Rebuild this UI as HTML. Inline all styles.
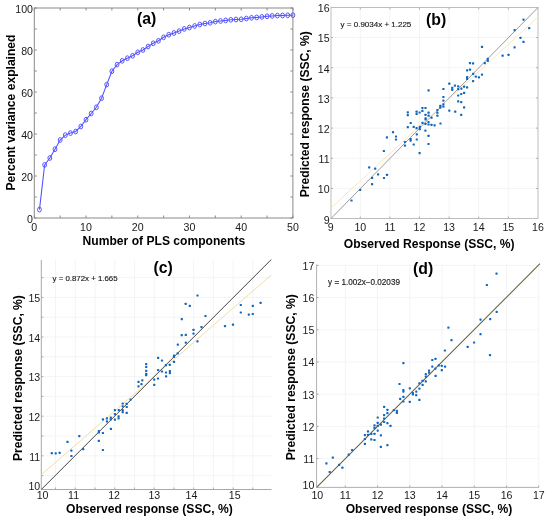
<!DOCTYPE html><html><head><meta charset="utf-8"><style>html,body{margin:0;padding:0;background:#fff;overflow:hidden;}svg{display:block;}text{font-family:"Liberation Sans", Arial, Helvetica, sans-serif;fill:#1a1a1a;}.tk{font-size:10.6px;}.lbl{font-size:12.1px;font-weight:bold;fill:#000;}.ttl{font-size:15.8px;font-weight:bold;fill:#000;}.eq{font-size:8px;fill:#1a1a1a;stroke:#1a1a1a;stroke-width:0.15px;}</style></head><body>
<svg width="550" height="520" viewBox="0 0 550 520">
<rect width="550" height="520" fill="#fff"/>
<rect x="34.3" y="8" width="258.6" height="210" fill="none" stroke="#8a8a8a" stroke-width="1"/>
<line x1="34.3" y1="218" x2="34.3" y2="215.5" stroke="#8a8a8a"/>
<line x1="34.3" y1="8" x2="34.3" y2="10.5" stroke="#8a8a8a"/>
<line x1="60.16" y1="218" x2="60.16" y2="215.5" stroke="#8a8a8a"/>
<line x1="60.16" y1="8" x2="60.16" y2="10.5" stroke="#8a8a8a"/>
<line x1="86.02" y1="218" x2="86.02" y2="215.5" stroke="#8a8a8a"/>
<line x1="86.02" y1="8" x2="86.02" y2="10.5" stroke="#8a8a8a"/>
<line x1="111.88" y1="218" x2="111.88" y2="215.5" stroke="#8a8a8a"/>
<line x1="111.88" y1="8" x2="111.88" y2="10.5" stroke="#8a8a8a"/>
<line x1="137.74" y1="218" x2="137.74" y2="215.5" stroke="#8a8a8a"/>
<line x1="137.74" y1="8" x2="137.74" y2="10.5" stroke="#8a8a8a"/>
<line x1="163.6" y1="218" x2="163.6" y2="215.5" stroke="#8a8a8a"/>
<line x1="163.6" y1="8" x2="163.6" y2="10.5" stroke="#8a8a8a"/>
<line x1="189.46" y1="218" x2="189.46" y2="215.5" stroke="#8a8a8a"/>
<line x1="189.46" y1="8" x2="189.46" y2="10.5" stroke="#8a8a8a"/>
<line x1="215.32" y1="218" x2="215.32" y2="215.5" stroke="#8a8a8a"/>
<line x1="215.32" y1="8" x2="215.32" y2="10.5" stroke="#8a8a8a"/>
<line x1="241.18" y1="218" x2="241.18" y2="215.5" stroke="#8a8a8a"/>
<line x1="241.18" y1="8" x2="241.18" y2="10.5" stroke="#8a8a8a"/>
<line x1="267.04" y1="218" x2="267.04" y2="215.5" stroke="#8a8a8a"/>
<line x1="267.04" y1="8" x2="267.04" y2="10.5" stroke="#8a8a8a"/>
<line x1="292.9" y1="218" x2="292.9" y2="215.5" stroke="#8a8a8a"/>
<line x1="292.9" y1="8" x2="292.9" y2="10.5" stroke="#8a8a8a"/>
<line x1="34.3" y1="218" x2="36.8" y2="218" stroke="#8a8a8a"/>
<line x1="292.9" y1="218" x2="290.4" y2="218" stroke="#8a8a8a"/>
<line x1="34.3" y1="197" x2="36.8" y2="197" stroke="#8a8a8a"/>
<line x1="292.9" y1="197" x2="290.4" y2="197" stroke="#8a8a8a"/>
<line x1="34.3" y1="176" x2="36.8" y2="176" stroke="#8a8a8a"/>
<line x1="292.9" y1="176" x2="290.4" y2="176" stroke="#8a8a8a"/>
<line x1="34.3" y1="155" x2="36.8" y2="155" stroke="#8a8a8a"/>
<line x1="292.9" y1="155" x2="290.4" y2="155" stroke="#8a8a8a"/>
<line x1="34.3" y1="134" x2="36.8" y2="134" stroke="#8a8a8a"/>
<line x1="292.9" y1="134" x2="290.4" y2="134" stroke="#8a8a8a"/>
<line x1="34.3" y1="113" x2="36.8" y2="113" stroke="#8a8a8a"/>
<line x1="292.9" y1="113" x2="290.4" y2="113" stroke="#8a8a8a"/>
<line x1="34.3" y1="92" x2="36.8" y2="92" stroke="#8a8a8a"/>
<line x1="292.9" y1="92" x2="290.4" y2="92" stroke="#8a8a8a"/>
<line x1="34.3" y1="71" x2="36.8" y2="71" stroke="#8a8a8a"/>
<line x1="292.9" y1="71" x2="290.4" y2="71" stroke="#8a8a8a"/>
<line x1="34.3" y1="50" x2="36.8" y2="50" stroke="#8a8a8a"/>
<line x1="292.9" y1="50" x2="290.4" y2="50" stroke="#8a8a8a"/>
<line x1="34.3" y1="29" x2="36.8" y2="29" stroke="#8a8a8a"/>
<line x1="292.9" y1="29" x2="290.4" y2="29" stroke="#8a8a8a"/>
<line x1="34.3" y1="8" x2="36.8" y2="8" stroke="#8a8a8a"/>
<line x1="292.9" y1="8" x2="290.4" y2="8" stroke="#8a8a8a"/>
<text x="34.3" y="230.6" class="tk" text-anchor="middle">0</text>
<text x="86.02" y="230.6" class="tk" text-anchor="middle">10</text>
<text x="137.74" y="230.6" class="tk" text-anchor="middle">20</text>
<text x="189.46" y="230.6" class="tk" text-anchor="middle">30</text>
<text x="241.18" y="230.6" class="tk" text-anchor="middle">40</text>
<text x="292.9" y="230.6" class="tk" text-anchor="middle">50</text>
<text x="33" y="222.5" class="tk" text-anchor="end">0</text>
<text x="33" y="180.5" class="tk" text-anchor="end">20</text>
<text x="33" y="138.5" class="tk" text-anchor="end">40</text>
<text x="33" y="96.5" class="tk" text-anchor="end">60</text>
<text x="33" y="54.5" class="tk" text-anchor="end">80</text>
<text x="33" y="12.5" class="tk" text-anchor="end">100</text>
<polyline points="39.47,209.6 44.64,164.9 49.82,158 54.99,149.2 60.16,140 65.33,135.1 70.5,133.1 75.68,131.5 80.85,126.5 86.02,119.7 91.19,113.5 96.36,107.3 101.54,98.2 106.71,84.6 111.88,71.2 117.05,64.6 122.22,60.8 127.4,58.2 132.57,55.8 137.74,52.3 142.91,50 148.08,46.5 153.26,43.3 158.43,40.8 163.6,37.3 168.77,34.7 173.94,33 179.12,31.1 184.29,28.9 189.46,27.5 194.63,26 199.8,24.5 204.98,23.5 210.15,22.8 215.32,21.6 220.49,21 225.66,20.4 230.84,19.8 236.01,19.5 241.18,19.3 246.35,18.5 251.52,17.8 256.7,17.4 261.87,16.9 267.04,16.3 272.21,15.9 277.38,15.6 282.56,15.5 287.73,15.3 292.9,15.2" fill="none" stroke="#5050ff" stroke-width="1.05"/>
<ellipse cx="39.47" cy="209.6" rx="1.9" ry="2.4" fill="none" stroke="#5555ff" stroke-width="1"/>
<ellipse cx="44.64" cy="164.9" rx="1.9" ry="2.4" fill="none" stroke="#5555ff" stroke-width="1"/>
<ellipse cx="49.82" cy="158" rx="1.9" ry="2.4" fill="none" stroke="#5555ff" stroke-width="1"/>
<ellipse cx="54.99" cy="149.2" rx="1.9" ry="2.4" fill="none" stroke="#5555ff" stroke-width="1"/>
<ellipse cx="60.16" cy="140" rx="1.9" ry="2.4" fill="none" stroke="#5555ff" stroke-width="1"/>
<ellipse cx="65.33" cy="135.1" rx="1.9" ry="2.4" fill="none" stroke="#5555ff" stroke-width="1"/>
<ellipse cx="70.5" cy="133.1" rx="1.9" ry="2.4" fill="none" stroke="#5555ff" stroke-width="1"/>
<ellipse cx="75.68" cy="131.5" rx="1.9" ry="2.4" fill="none" stroke="#5555ff" stroke-width="1"/>
<ellipse cx="80.85" cy="126.5" rx="1.9" ry="2.4" fill="none" stroke="#5555ff" stroke-width="1"/>
<ellipse cx="86.02" cy="119.7" rx="1.9" ry="2.4" fill="none" stroke="#5555ff" stroke-width="1"/>
<ellipse cx="91.19" cy="113.5" rx="1.9" ry="2.4" fill="none" stroke="#5555ff" stroke-width="1"/>
<ellipse cx="96.36" cy="107.3" rx="1.9" ry="2.4" fill="none" stroke="#5555ff" stroke-width="1"/>
<ellipse cx="101.54" cy="98.2" rx="1.9" ry="2.4" fill="none" stroke="#5555ff" stroke-width="1"/>
<ellipse cx="106.71" cy="84.6" rx="1.9" ry="2.4" fill="none" stroke="#5555ff" stroke-width="1"/>
<ellipse cx="111.88" cy="71.2" rx="1.9" ry="2.4" fill="none" stroke="#5555ff" stroke-width="1"/>
<ellipse cx="117.05" cy="64.6" rx="1.9" ry="2.4" fill="none" stroke="#5555ff" stroke-width="1"/>
<ellipse cx="122.22" cy="60.8" rx="1.9" ry="2.4" fill="none" stroke="#5555ff" stroke-width="1"/>
<ellipse cx="127.4" cy="58.2" rx="1.9" ry="2.4" fill="none" stroke="#5555ff" stroke-width="1"/>
<ellipse cx="132.57" cy="55.8" rx="1.9" ry="2.4" fill="none" stroke="#5555ff" stroke-width="1"/>
<ellipse cx="137.74" cy="52.3" rx="1.9" ry="2.4" fill="none" stroke="#5555ff" stroke-width="1"/>
<ellipse cx="142.91" cy="50" rx="1.9" ry="2.4" fill="none" stroke="#5555ff" stroke-width="1"/>
<ellipse cx="148.08" cy="46.5" rx="1.9" ry="2.4" fill="none" stroke="#5555ff" stroke-width="1"/>
<ellipse cx="153.26" cy="43.3" rx="1.9" ry="2.4" fill="none" stroke="#5555ff" stroke-width="1"/>
<ellipse cx="158.43" cy="40.8" rx="1.9" ry="2.4" fill="none" stroke="#5555ff" stroke-width="1"/>
<ellipse cx="163.6" cy="37.3" rx="1.9" ry="2.4" fill="none" stroke="#5555ff" stroke-width="1"/>
<ellipse cx="168.77" cy="34.7" rx="1.9" ry="2.4" fill="none" stroke="#5555ff" stroke-width="1"/>
<ellipse cx="173.94" cy="33" rx="1.9" ry="2.4" fill="none" stroke="#5555ff" stroke-width="1"/>
<ellipse cx="179.12" cy="31.1" rx="1.9" ry="2.4" fill="none" stroke="#5555ff" stroke-width="1"/>
<ellipse cx="184.29" cy="28.9" rx="1.9" ry="2.4" fill="none" stroke="#5555ff" stroke-width="1"/>
<ellipse cx="189.46" cy="27.5" rx="1.9" ry="2.4" fill="none" stroke="#5555ff" stroke-width="1"/>
<ellipse cx="194.63" cy="26" rx="1.9" ry="2.4" fill="none" stroke="#5555ff" stroke-width="1"/>
<ellipse cx="199.8" cy="24.5" rx="1.9" ry="2.4" fill="none" stroke="#5555ff" stroke-width="1"/>
<ellipse cx="204.98" cy="23.5" rx="1.9" ry="2.4" fill="none" stroke="#5555ff" stroke-width="1"/>
<ellipse cx="210.15" cy="22.8" rx="1.9" ry="2.4" fill="none" stroke="#5555ff" stroke-width="1"/>
<ellipse cx="215.32" cy="21.6" rx="1.9" ry="2.4" fill="none" stroke="#5555ff" stroke-width="1"/>
<ellipse cx="220.49" cy="21" rx="1.9" ry="2.4" fill="none" stroke="#5555ff" stroke-width="1"/>
<ellipse cx="225.66" cy="20.4" rx="1.9" ry="2.4" fill="none" stroke="#5555ff" stroke-width="1"/>
<ellipse cx="230.84" cy="19.8" rx="1.9" ry="2.4" fill="none" stroke="#5555ff" stroke-width="1"/>
<ellipse cx="236.01" cy="19.5" rx="1.9" ry="2.4" fill="none" stroke="#5555ff" stroke-width="1"/>
<ellipse cx="241.18" cy="19.3" rx="1.9" ry="2.4" fill="none" stroke="#5555ff" stroke-width="1"/>
<ellipse cx="246.35" cy="18.5" rx="1.9" ry="2.4" fill="none" stroke="#5555ff" stroke-width="1"/>
<ellipse cx="251.52" cy="17.8" rx="1.9" ry="2.4" fill="none" stroke="#5555ff" stroke-width="1"/>
<ellipse cx="256.7" cy="17.4" rx="1.9" ry="2.4" fill="none" stroke="#5555ff" stroke-width="1"/>
<ellipse cx="261.87" cy="16.9" rx="1.9" ry="2.4" fill="none" stroke="#5555ff" stroke-width="1"/>
<ellipse cx="267.04" cy="16.3" rx="1.9" ry="2.4" fill="none" stroke="#5555ff" stroke-width="1"/>
<ellipse cx="272.21" cy="15.9" rx="1.9" ry="2.4" fill="none" stroke="#5555ff" stroke-width="1"/>
<ellipse cx="277.38" cy="15.6" rx="1.9" ry="2.4" fill="none" stroke="#5555ff" stroke-width="1"/>
<ellipse cx="282.56" cy="15.5" rx="1.9" ry="2.4" fill="none" stroke="#5555ff" stroke-width="1"/>
<ellipse cx="287.73" cy="15.3" rx="1.9" ry="2.4" fill="none" stroke="#5555ff" stroke-width="1"/>
<ellipse cx="292.9" cy="15.2" rx="1.9" ry="2.4" fill="none" stroke="#5555ff" stroke-width="1"/>
<text x="146.6" y="24" class="ttl" text-anchor="middle">(a)</text>
<text x="163.9" y="245.2" class="lbl" text-anchor="middle">Number of PLS components</text>
<text transform="translate(15.4 112.5) rotate(-90)" class="lbl" text-anchor="middle">Percent variance explained</text>
<line x1="360.3" y1="7.5" x2="360.3" y2="218.5" stroke="#f4f4f4" stroke-width="1"/>
<line x1="331" y1="188.5" x2="538" y2="188.5" stroke="#f4f4f4" stroke-width="1"/>
<line x1="389.9" y1="7.5" x2="389.9" y2="218.5" stroke="#f4f4f4" stroke-width="1"/>
<line x1="331" y1="158.3" x2="538" y2="158.3" stroke="#f4f4f4" stroke-width="1"/>
<line x1="419.5" y1="7.5" x2="419.5" y2="218.5" stroke="#f4f4f4" stroke-width="1"/>
<line x1="331" y1="128.1" x2="538" y2="128.1" stroke="#f4f4f4" stroke-width="1"/>
<line x1="449.1" y1="7.5" x2="449.1" y2="218.5" stroke="#f4f4f4" stroke-width="1"/>
<line x1="331" y1="97.9" x2="538" y2="97.9" stroke="#f4f4f4" stroke-width="1"/>
<line x1="478.7" y1="7.5" x2="478.7" y2="218.5" stroke="#f4f4f4" stroke-width="1"/>
<line x1="331" y1="67.7" x2="538" y2="67.7" stroke="#f4f4f4" stroke-width="1"/>
<line x1="508.3" y1="7.5" x2="508.3" y2="218.5" stroke="#f4f4f4" stroke-width="1"/>
<line x1="331" y1="37.5" x2="538" y2="37.5" stroke="#f4f4f4" stroke-width="1"/>
<rect x="331" y="7.5" width="207" height="211" fill="none" stroke="#bdbdbd"/>
<line x1="360.3" y1="218.5" x2="360.3" y2="216.5" stroke="#b0b0b0" stroke-width="1"/>
<line x1="360.3" y1="7.5" x2="360.3" y2="9.5" stroke="#b0b0b0" stroke-width="1"/>
<line x1="331" y1="188.5" x2="333" y2="188.5" stroke="#b0b0b0" stroke-width="1"/>
<line x1="538" y1="188.5" x2="536" y2="188.5" stroke="#b0b0b0" stroke-width="1"/>
<line x1="389.9" y1="218.5" x2="389.9" y2="216.5" stroke="#b0b0b0" stroke-width="1"/>
<line x1="389.9" y1="7.5" x2="389.9" y2="9.5" stroke="#b0b0b0" stroke-width="1"/>
<line x1="331" y1="158.3" x2="333" y2="158.3" stroke="#b0b0b0" stroke-width="1"/>
<line x1="538" y1="158.3" x2="536" y2="158.3" stroke="#b0b0b0" stroke-width="1"/>
<line x1="419.5" y1="218.5" x2="419.5" y2="216.5" stroke="#b0b0b0" stroke-width="1"/>
<line x1="419.5" y1="7.5" x2="419.5" y2="9.5" stroke="#b0b0b0" stroke-width="1"/>
<line x1="331" y1="128.1" x2="333" y2="128.1" stroke="#b0b0b0" stroke-width="1"/>
<line x1="538" y1="128.1" x2="536" y2="128.1" stroke="#b0b0b0" stroke-width="1"/>
<line x1="449.1" y1="218.5" x2="449.1" y2="216.5" stroke="#b0b0b0" stroke-width="1"/>
<line x1="449.1" y1="7.5" x2="449.1" y2="9.5" stroke="#b0b0b0" stroke-width="1"/>
<line x1="331" y1="97.9" x2="333" y2="97.9" stroke="#b0b0b0" stroke-width="1"/>
<line x1="538" y1="97.9" x2="536" y2="97.9" stroke="#b0b0b0" stroke-width="1"/>
<line x1="478.7" y1="218.5" x2="478.7" y2="216.5" stroke="#b0b0b0" stroke-width="1"/>
<line x1="478.7" y1="7.5" x2="478.7" y2="9.5" stroke="#b0b0b0" stroke-width="1"/>
<line x1="331" y1="67.7" x2="333" y2="67.7" stroke="#b0b0b0" stroke-width="1"/>
<line x1="538" y1="67.7" x2="536" y2="67.7" stroke="#b0b0b0" stroke-width="1"/>
<line x1="508.3" y1="218.5" x2="508.3" y2="216.5" stroke="#b0b0b0" stroke-width="1"/>
<line x1="508.3" y1="7.5" x2="508.3" y2="9.5" stroke="#b0b0b0" stroke-width="1"/>
<line x1="331" y1="37.5" x2="333" y2="37.5" stroke="#b0b0b0" stroke-width="1"/>
<line x1="538" y1="37.5" x2="536" y2="37.5" stroke="#b0b0b0" stroke-width="1"/>
<text x="330.7" y="230.6" class="tk" text-anchor="middle">9</text>
<text x="329.6" y="223.5" class="tk" text-anchor="end">9</text>
<text x="360.3" y="230.6" class="tk" text-anchor="middle">10</text>
<text x="329.6" y="193.3" class="tk" text-anchor="end">10</text>
<text x="389.9" y="230.6" class="tk" text-anchor="middle">11</text>
<text x="329.6" y="163.1" class="tk" text-anchor="end">11</text>
<text x="419.5" y="230.6" class="tk" text-anchor="middle">12</text>
<text x="329.6" y="132.9" class="tk" text-anchor="end">12</text>
<text x="449.1" y="230.6" class="tk" text-anchor="middle">13</text>
<text x="329.6" y="102.7" class="tk" text-anchor="end">13</text>
<text x="478.7" y="230.6" class="tk" text-anchor="middle">14</text>
<text x="329.6" y="72.5" class="tk" text-anchor="end">14</text>
<text x="508.3" y="230.6" class="tk" text-anchor="middle">15</text>
<text x="329.6" y="42.3" class="tk" text-anchor="end">15</text>
<text x="537.9" y="230.6" class="tk" text-anchor="middle">16</text>
<text x="329.6" y="12.1" class="tk" text-anchor="end">16</text>
<line x1="331" y1="218.5" x2="538" y2="7.5" stroke="#9a9a9a" stroke-width="1"/>
<line x1="331" y1="207.96" x2="538" y2="16.98" stroke="#f6e9c6" stroke-width="1"/>
<text x="340.6" y="27.4" class="eq">y = 0.9034x + 1.225</text>
<text x="436.2" y="24.5" class="ttl" text-anchor="middle">(b)</text>
<text x="429.2" y="247.5" class="lbl" text-anchor="middle">Observed Response (SSC, %)</text>
<text transform="translate(309 114.2) rotate(-90)" class="lbl" text-anchor="middle">Predicted response (SSC, %)</text>
<line x1="55.57" y1="260" x2="55.57" y2="489.5" stroke="#f4f4f4" stroke-width="1"/>
<line x1="41.3" y1="475.6" x2="271.5" y2="475.6" stroke="#f4f4f4" stroke-width="1"/>
<line x1="75.3" y1="260" x2="75.3" y2="489.5" stroke="#f4f4f4" stroke-width="1"/>
<line x1="41.3" y1="455.8" x2="271.5" y2="455.8" stroke="#f4f4f4" stroke-width="1"/>
<line x1="95.03" y1="260" x2="95.03" y2="489.5" stroke="#f4f4f4" stroke-width="1"/>
<line x1="41.3" y1="436" x2="271.5" y2="436" stroke="#f4f4f4" stroke-width="1"/>
<line x1="114.75" y1="260" x2="114.75" y2="489.5" stroke="#f4f4f4" stroke-width="1"/>
<line x1="41.3" y1="416.2" x2="271.5" y2="416.2" stroke="#f4f4f4" stroke-width="1"/>
<line x1="134.47" y1="260" x2="134.47" y2="489.5" stroke="#f4f4f4" stroke-width="1"/>
<line x1="41.3" y1="396.4" x2="271.5" y2="396.4" stroke="#f4f4f4" stroke-width="1"/>
<line x1="154.2" y1="260" x2="154.2" y2="489.5" stroke="#f4f4f4" stroke-width="1"/>
<line x1="41.3" y1="376.6" x2="271.5" y2="376.6" stroke="#f4f4f4" stroke-width="1"/>
<line x1="173.93" y1="260" x2="173.93" y2="489.5" stroke="#f4f4f4" stroke-width="1"/>
<line x1="41.3" y1="356.8" x2="271.5" y2="356.8" stroke="#f4f4f4" stroke-width="1"/>
<line x1="193.65" y1="260" x2="193.65" y2="489.5" stroke="#f4f4f4" stroke-width="1"/>
<line x1="41.3" y1="337" x2="271.5" y2="337" stroke="#f4f4f4" stroke-width="1"/>
<line x1="213.38" y1="260" x2="213.38" y2="489.5" stroke="#f4f4f4" stroke-width="1"/>
<line x1="41.3" y1="317.2" x2="271.5" y2="317.2" stroke="#f4f4f4" stroke-width="1"/>
<line x1="233.1" y1="260" x2="233.1" y2="489.5" stroke="#f4f4f4" stroke-width="1"/>
<line x1="41.3" y1="297.4" x2="271.5" y2="297.4" stroke="#f4f4f4" stroke-width="1"/>
<line x1="252.82" y1="260" x2="252.82" y2="489.5" stroke="#f4f4f4" stroke-width="1"/>
<line x1="41.3" y1="277.6" x2="271.5" y2="277.6" stroke="#f4f4f4" stroke-width="1"/>
<line x1="41.3" y1="260" x2="41.3" y2="489.5" stroke="#a8a8a8" stroke-width="1"/>
<line x1="41.3" y1="489.5" x2="271.5" y2="489.5" stroke="#a8a8a8" stroke-width="1"/>
<line x1="55.57" y1="489.5" x2="55.57" y2="487.5" stroke="#aaa" stroke-width="1"/>
<line x1="41.3" y1="475.6" x2="43.3" y2="475.6" stroke="#aaa" stroke-width="1"/>
<line x1="75.3" y1="489.5" x2="75.3" y2="487.5" stroke="#aaa" stroke-width="1"/>
<line x1="41.3" y1="455.8" x2="43.3" y2="455.8" stroke="#aaa" stroke-width="1"/>
<line x1="95.03" y1="489.5" x2="95.03" y2="487.5" stroke="#aaa" stroke-width="1"/>
<line x1="41.3" y1="436" x2="43.3" y2="436" stroke="#aaa" stroke-width="1"/>
<line x1="114.75" y1="489.5" x2="114.75" y2="487.5" stroke="#aaa" stroke-width="1"/>
<line x1="41.3" y1="416.2" x2="43.3" y2="416.2" stroke="#aaa" stroke-width="1"/>
<line x1="134.47" y1="489.5" x2="134.47" y2="487.5" stroke="#aaa" stroke-width="1"/>
<line x1="41.3" y1="396.4" x2="43.3" y2="396.4" stroke="#aaa" stroke-width="1"/>
<line x1="154.2" y1="489.5" x2="154.2" y2="487.5" stroke="#aaa" stroke-width="1"/>
<line x1="41.3" y1="376.6" x2="43.3" y2="376.6" stroke="#aaa" stroke-width="1"/>
<line x1="173.93" y1="489.5" x2="173.93" y2="487.5" stroke="#aaa" stroke-width="1"/>
<line x1="41.3" y1="356.8" x2="43.3" y2="356.8" stroke="#aaa" stroke-width="1"/>
<line x1="193.65" y1="489.5" x2="193.65" y2="487.5" stroke="#aaa" stroke-width="1"/>
<line x1="41.3" y1="337" x2="43.3" y2="337" stroke="#aaa" stroke-width="1"/>
<line x1="213.38" y1="489.5" x2="213.38" y2="487.5" stroke="#aaa" stroke-width="1"/>
<line x1="41.3" y1="317.2" x2="43.3" y2="317.2" stroke="#aaa" stroke-width="1"/>
<line x1="233.1" y1="489.5" x2="233.1" y2="487.5" stroke="#aaa" stroke-width="1"/>
<line x1="41.3" y1="297.4" x2="43.3" y2="297.4" stroke="#aaa" stroke-width="1"/>
<line x1="252.82" y1="489.5" x2="252.82" y2="487.5" stroke="#aaa" stroke-width="1"/>
<line x1="41.3" y1="277.6" x2="43.3" y2="277.6" stroke="#aaa" stroke-width="1"/>
<text x="42.55" y="499" class="tk" text-anchor="middle">10</text>
<text x="73.6" y="499" class="tk" text-anchor="middle">11</text>
<text x="114.1" y="499" class="tk" text-anchor="middle">12</text>
<text x="154.35" y="499" class="tk" text-anchor="middle">13</text>
<text x="191.4" y="499" class="tk" text-anchor="middle">14</text>
<text x="234.65" y="499" class="tk" text-anchor="middle">15</text>
<text x="40.2" y="490.4" class="tk" text-anchor="end">10</text>
<text x="40.2" y="460.5" class="tk" text-anchor="end">11</text>
<text x="40.2" y="420.9" class="tk" text-anchor="end">12</text>
<text x="40.2" y="381.3" class="tk" text-anchor="end">13</text>
<text x="40.2" y="341.7" class="tk" text-anchor="end">14</text>
<text x="40.2" y="302.1" class="tk" text-anchor="end">15</text>
<line x1="41.3" y1="474.7" x2="271.5" y2="274.8" stroke="#f2dcaa" stroke-width="1"/>
<line x1="41.3" y1="489.5" x2="271.2" y2="259.6" stroke="#3a3a3a" stroke-width="0.95"/>
<text x="52.6" y="280.7" class="eq" style="font-size:7.85px">y = 0.872x + 1.665</text>
<rect x="146" y="259.5" width="36" height="17.5" fill="#fff"/>
<text x="163.2" y="272.6" class="ttl" text-anchor="middle">(c)</text>
<text x="149.35" y="513.2" class="lbl" text-anchor="middle">Observed response (SSC, %)</text>
<text transform="translate(22 378.1) rotate(-90)" class="lbl" text-anchor="middle">Predicted response (SSC, %)</text>
<line x1="345.3" y1="264.5" x2="345.3" y2="487.4" stroke="#f4f4f4" stroke-width="1"/>
<line x1="316.6" y1="458.6" x2="539" y2="458.6" stroke="#f4f4f4" stroke-width="1"/>
<line x1="377.55" y1="264.5" x2="377.55" y2="487.4" stroke="#f4f4f4" stroke-width="1"/>
<line x1="316.6" y1="426.4" x2="539" y2="426.4" stroke="#f4f4f4" stroke-width="1"/>
<line x1="409.8" y1="264.5" x2="409.8" y2="487.4" stroke="#f4f4f4" stroke-width="1"/>
<line x1="316.6" y1="394.2" x2="539" y2="394.2" stroke="#f4f4f4" stroke-width="1"/>
<line x1="442.05" y1="264.5" x2="442.05" y2="487.4" stroke="#f4f4f4" stroke-width="1"/>
<line x1="316.6" y1="362" x2="539" y2="362" stroke="#f4f4f4" stroke-width="1"/>
<line x1="474.3" y1="264.5" x2="474.3" y2="487.4" stroke="#f4f4f4" stroke-width="1"/>
<line x1="316.6" y1="329.8" x2="539" y2="329.8" stroke="#f4f4f4" stroke-width="1"/>
<line x1="506.55" y1="264.5" x2="506.55" y2="487.4" stroke="#f4f4f4" stroke-width="1"/>
<line x1="316.6" y1="297.6" x2="539" y2="297.6" stroke="#f4f4f4" stroke-width="1"/>
<line x1="538.8" y1="264.5" x2="538.8" y2="487.4" stroke="#f4f4f4" stroke-width="1"/>
<line x1="316.6" y1="265.4" x2="539" y2="265.4" stroke="#f4f4f4" stroke-width="1"/>
<line x1="316.6" y1="264.5" x2="316.6" y2="487.4" stroke="#b0b0b0" stroke-width="1"/>
<line x1="316.6" y1="487.4" x2="539" y2="487.4" stroke="#b0b0b0" stroke-width="1"/>
<line x1="345.3" y1="487.4" x2="345.3" y2="485.4" stroke="#aaa" stroke-width="1"/>
<line x1="316.6" y1="458.6" x2="318.6" y2="458.6" stroke="#aaa" stroke-width="1"/>
<line x1="377.55" y1="487.4" x2="377.55" y2="485.4" stroke="#aaa" stroke-width="1"/>
<line x1="316.6" y1="426.4" x2="318.6" y2="426.4" stroke="#aaa" stroke-width="1"/>
<line x1="409.8" y1="487.4" x2="409.8" y2="485.4" stroke="#aaa" stroke-width="1"/>
<line x1="316.6" y1="394.2" x2="318.6" y2="394.2" stroke="#aaa" stroke-width="1"/>
<line x1="442.05" y1="487.4" x2="442.05" y2="485.4" stroke="#aaa" stroke-width="1"/>
<line x1="316.6" y1="362" x2="318.6" y2="362" stroke="#aaa" stroke-width="1"/>
<line x1="474.3" y1="487.4" x2="474.3" y2="485.4" stroke="#aaa" stroke-width="1"/>
<line x1="316.6" y1="329.8" x2="318.6" y2="329.8" stroke="#aaa" stroke-width="1"/>
<line x1="506.55" y1="487.4" x2="506.55" y2="485.4" stroke="#aaa" stroke-width="1"/>
<line x1="316.6" y1="297.6" x2="318.6" y2="297.6" stroke="#aaa" stroke-width="1"/>
<line x1="538.8" y1="487.4" x2="538.8" y2="485.4" stroke="#aaa" stroke-width="1"/>
<line x1="316.6" y1="265.4" x2="318.6" y2="265.4" stroke="#aaa" stroke-width="1"/>
<text x="317.3" y="499.4" class="tk" text-anchor="middle">10</text>
<text x="345.3" y="499.4" class="tk" text-anchor="middle">11</text>
<text x="377.55" y="499.4" class="tk" text-anchor="middle">12</text>
<text x="409.8" y="499.4" class="tk" text-anchor="middle">13</text>
<text x="442.05" y="499.4" class="tk" text-anchor="middle">14</text>
<text x="474.3" y="499.4" class="tk" text-anchor="middle">15</text>
<text x="506.55" y="499.4" class="tk" text-anchor="middle">16</text>
<text x="538.8" y="499.4" class="tk" text-anchor="middle">17</text>
<text x="314.3" y="489.2" class="tk" text-anchor="end">10</text>
<text x="314.3" y="463" class="tk" text-anchor="end">11</text>
<text x="314.3" y="430.8" class="tk" text-anchor="end">12</text>
<text x="314.3" y="398.6" class="tk" text-anchor="end">13</text>
<text x="314.3" y="366.4" class="tk" text-anchor="end">14</text>
<text x="314.3" y="334.2" class="tk" text-anchor="end">15</text>
<text x="314.3" y="302" class="tk" text-anchor="end">16</text>
<text x="314.3" y="269.8" class="tk" text-anchor="end">17</text>
<line x1="316.6" y1="487.4" x2="540" y2="263.6" stroke="#6a6444" stroke-width="1.1"/>
<text x="328.1" y="285.4" class="eq" style="font-size:8.15px">y = 1.002x−0.02039</text>
<text x="423.2" y="274" class="ttl" text-anchor="middle">(d)</text>
<text x="429" y="513.2" class="lbl" text-anchor="middle">Observed response (SSC, %)</text>
<text transform="translate(294.5 377.3) rotate(-90)" class="lbl" text-anchor="middle">Predicted response (SSC, %)</text>
<g fill="#1266bd"><rect x="350.4" y="199.4" width="2.2" height="2.2" rx="0.6"/><rect x="359.1" y="188.9" width="2.2" height="2.2" rx="0.6"/><rect x="368.1" y="166.3" width="2.2" height="2.2" rx="0.6"/><rect x="374.1" y="167.6" width="2.2" height="2.2" rx="0.6"/><rect x="377" y="173.3" width="2.2" height="2.2" rx="0.6"/><rect x="371" y="176.8" width="2.2" height="2.2" rx="0.6"/><rect x="371" y="183.1" width="2.2" height="2.2" rx="0.6"/><rect x="382.9" y="176.9" width="2.2" height="2.2" rx="0.6"/><rect x="385.9" y="173.7" width="2.2" height="2.2" rx="0.6"/><rect x="382.8" y="149.9" width="2.2" height="2.2" rx="0.6"/><rect x="418.5" y="152" width="2.2" height="2.2" rx="0.6"/><rect x="385.8" y="136.3" width="2.2" height="2.2" rx="0.6"/><rect x="391.9" y="131.1" width="2.2" height="2.2" rx="0.6"/><rect x="409.6" y="121.9" width="2.2" height="2.2" rx="0.6"/><rect x="406.7" y="126.1" width="2.2" height="2.2" rx="0.6"/><rect x="412.6" y="125.8" width="2.2" height="2.2" rx="0.6"/><rect x="415.5" y="127.1" width="2.2" height="2.2" rx="0.6"/><rect x="418.7" y="125.8" width="2.2" height="2.2" rx="0.6"/><rect x="418.7" y="128" width="2.2" height="2.2" rx="0.6"/><rect x="421.4" y="121.8" width="2.2" height="2.2" rx="0.6"/><rect x="424.3" y="122.7" width="2.2" height="2.2" rx="0.6"/><rect x="424.5" y="117.2" width="2.2" height="2.2" rx="0.6"/><rect x="424.5" y="118.3" width="2.2" height="2.2" rx="0.6"/><rect x="424.3" y="129.5" width="2.2" height="2.2" rx="0.6"/><rect x="415.7" y="133.2" width="2.2" height="2.2" rx="0.6"/><rect x="394.9" y="135.4" width="2.2" height="2.2" rx="0.6"/><rect x="394.9" y="138.4" width="2.2" height="2.2" rx="0.6"/><rect x="409.5" y="138.1" width="2.2" height="2.2" rx="0.6"/><rect x="409.5" y="139.5" width="2.2" height="2.2" rx="0.6"/><rect x="415.7" y="138.4" width="2.2" height="2.2" rx="0.6"/><rect x="403.9" y="140.9" width="2.2" height="2.2" rx="0.6"/><rect x="403.9" y="144.5" width="2.2" height="2.2" rx="0.6"/><rect x="412.6" y="143.4" width="2.2" height="2.2" rx="0.6"/><rect x="427.4" y="121.1" width="2.2" height="2.2" rx="0.6"/><rect x="427.4" y="123.4" width="2.2" height="2.2" rx="0.6"/><rect x="430.4" y="123.7" width="2.2" height="2.2" rx="0.6"/><rect x="433.5" y="124.2" width="2.2" height="2.2" rx="0.6"/><rect x="439.4" y="122.4" width="2.2" height="2.2" rx="0.6"/><rect x="427.4" y="134.7" width="2.2" height="2.2" rx="0.6"/><rect x="427.4" y="142.9" width="2.2" height="2.2" rx="0.6"/><rect x="430.4" y="116.6" width="2.2" height="2.2" rx="0.6"/><rect x="406.7" y="111.2" width="2.2" height="2.2" rx="0.6"/><rect x="406.7" y="114.1" width="2.2" height="2.2" rx="0.6"/><rect x="415.5" y="110.6" width="2.2" height="2.2" rx="0.6"/><rect x="415.5" y="112.9" width="2.2" height="2.2" rx="0.6"/><rect x="418.5" y="111.4" width="2.2" height="2.2" rx="0.6"/><rect x="421.3" y="106.9" width="2.2" height="2.2" rx="0.6"/><rect x="421.3" y="109.8" width="2.2" height="2.2" rx="0.6"/><rect x="424.4" y="106.9" width="2.2" height="2.2" rx="0.6"/><rect x="424.4" y="113.7" width="2.2" height="2.2" rx="0.6"/><rect x="427.5" y="89.3" width="2.2" height="2.2" rx="0.6"/><rect x="442.3" y="87.9" width="2.2" height="2.2" rx="0.6"/><rect x="451.1" y="86.7" width="2.2" height="2.2" rx="0.6"/><rect x="451.1" y="88.7" width="2.2" height="2.2" rx="0.6"/><rect x="453.8" y="84.5" width="2.2" height="2.2" rx="0.6"/><rect x="442.3" y="95.9" width="2.2" height="2.2" rx="0.6"/><rect x="442.3" y="99.5" width="2.2" height="2.2" rx="0.6"/><rect x="442.3" y="103.2" width="2.2" height="2.2" rx="0.6"/><rect x="442.3" y="105.5" width="2.2" height="2.2" rx="0.6"/><rect x="439.2" y="104.7" width="2.2" height="2.2" rx="0.6"/><rect x="439.2" y="106.6" width="2.2" height="2.2" rx="0.6"/><rect x="436.3" y="109" width="2.2" height="2.2" rx="0.6"/><rect x="436.3" y="111.6" width="2.2" height="2.2" rx="0.6"/><rect x="436.3" y="114.6" width="2.2" height="2.2" rx="0.6"/><rect x="427.5" y="111.6" width="2.2" height="2.2" rx="0.6"/><rect x="427.5" y="114.6" width="2.2" height="2.2" rx="0.6"/><rect x="448.2" y="109.5" width="2.2" height="2.2" rx="0.6"/><rect x="454.1" y="110.6" width="2.2" height="2.2" rx="0.6"/><rect x="457.1" y="85.2" width="2.2" height="2.2" rx="0.6"/><rect x="457.1" y="88.1" width="2.2" height="2.2" rx="0.6"/><rect x="460.3" y="87.5" width="2.2" height="2.2" rx="0.6"/><rect x="463" y="85.6" width="2.2" height="2.2" rx="0.6"/><rect x="466" y="86.3" width="2.2" height="2.2" rx="0.6"/><rect x="457.1" y="94.4" width="2.2" height="2.2" rx="0.6"/><rect x="460.1" y="92.9" width="2.2" height="2.2" rx="0.6"/><rect x="463" y="91.8" width="2.2" height="2.2" rx="0.6"/><rect x="457.1" y="100.2" width="2.2" height="2.2" rx="0.6"/><rect x="460.1" y="101" width="2.2" height="2.2" rx="0.6"/><rect x="463" y="106.3" width="2.2" height="2.2" rx="0.6"/><rect x="460.1" y="113.8" width="2.2" height="2.2" rx="0.6"/><rect x="448.2" y="82.6" width="2.2" height="2.2" rx="0.6"/><rect x="468.9" y="62" width="2.2" height="2.2" rx="0.6"/><rect x="472" y="62.3" width="2.2" height="2.2" rx="0.6"/><rect x="466" y="69.2" width="2.2" height="2.2" rx="0.6"/><rect x="468.9" y="68.6" width="2.2" height="2.2" rx="0.6"/><rect x="472" y="72.7" width="2.2" height="2.2" rx="0.6"/><rect x="466" y="76" width="2.2" height="2.2" rx="0.6"/><rect x="466" y="77.8" width="2.2" height="2.2" rx="0.6"/><rect x="474.7" y="75.5" width="2.2" height="2.2" rx="0.6"/><rect x="477.8" y="76.2" width="2.2" height="2.2" rx="0.6"/><rect x="480.9" y="73.5" width="2.2" height="2.2" rx="0.6"/><rect x="472" y="80" width="2.2" height="2.2" rx="0.6"/><rect x="483.7" y="62" width="2.2" height="2.2" rx="0.6"/><rect x="486.7" y="57.7" width="2.2" height="2.2" rx="0.6"/><rect x="486.7" y="59.7" width="2.2" height="2.2" rx="0.6"/><rect x="501.5" y="54.6" width="2.2" height="2.2" rx="0.6"/><rect x="507.4" y="53.7" width="2.2" height="2.2" rx="0.6"/><rect x="480.9" y="45.8" width="2.2" height="2.2" rx="0.6"/><rect x="513.5" y="29.1" width="2.2" height="2.2" rx="0.6"/><rect x="519.4" y="36.7" width="2.2" height="2.2" rx="0.6"/><rect x="513.5" y="46.2" width="2.2" height="2.2" rx="0.6"/><rect x="522.4" y="18.5" width="2.2" height="2.2" rx="0.6"/><rect x="528.1" y="27.1" width="2.2" height="2.2" rx="0.6"/><rect x="522.4" y="40.8" width="2.2" height="2.2" rx="0.6"/><rect x="50.7" y="452.1" width="2.2" height="2.2" rx="0.6"/><rect x="54.6" y="452.2" width="2.2" height="2.2" rx="0.6"/><rect x="58.6" y="451.7" width="2.2" height="2.2" rx="0.6"/><rect x="66.4" y="440.8" width="2.2" height="2.2" rx="0.6"/><rect x="70.3" y="449.5" width="2.2" height="2.2" rx="0.6"/><rect x="70.3" y="454.9" width="2.2" height="2.2" rx="0.6"/><rect x="78.2" y="435" width="2.2" height="2.2" rx="0.6"/><rect x="82.1" y="448.1" width="2.2" height="2.2" rx="0.6"/><rect x="97.8" y="430.1" width="2.2" height="2.2" rx="0.6"/><rect x="97.8" y="431.3" width="2.2" height="2.2" rx="0.6"/><rect x="101.8" y="431.9" width="2.2" height="2.2" rx="0.6"/><rect x="109.8" y="427.8" width="2.2" height="2.2" rx="0.6"/><rect x="97.8" y="439.7" width="2.2" height="2.2" rx="0.6"/><rect x="101.8" y="448.9" width="2.2" height="2.2" rx="0.6"/><rect x="105.8" y="420.3" width="2.2" height="2.2" rx="0.6"/><rect x="101.8" y="418.3" width="2.2" height="2.2" rx="0.6"/><rect x="105.8" y="417.3" width="2.2" height="2.2" rx="0.6"/><rect x="109.7" y="416.5" width="2.2" height="2.2" rx="0.6"/><rect x="109.7" y="418.2" width="2.2" height="2.2" rx="0.6"/><rect x="113.8" y="409" width="2.2" height="2.2" rx="0.6"/><rect x="113.8" y="413.1" width="2.2" height="2.2" rx="0.6"/><rect x="113.8" y="418.6" width="2.2" height="2.2" rx="0.6"/><rect x="117.7" y="409.1" width="2.2" height="2.2" rx="0.6"/><rect x="117.5" y="415.2" width="2.2" height="2.2" rx="0.6"/><rect x="117.5" y="417.2" width="2.2" height="2.2" rx="0.6"/><rect x="121.6" y="402.4" width="2.2" height="2.2" rx="0.6"/><rect x="121.6" y="405.2" width="2.2" height="2.2" rx="0.6"/><rect x="121.6" y="409.1" width="2.2" height="2.2" rx="0.6"/><rect x="121.6" y="411.1" width="2.2" height="2.2" rx="0.6"/><rect x="125.6" y="402.7" width="2.2" height="2.2" rx="0.6"/><rect x="125.6" y="405.9" width="2.2" height="2.2" rx="0.6"/><rect x="125.6" y="411.8" width="2.2" height="2.2" rx="0.6"/><rect x="129.5" y="398.5" width="2.2" height="2.2" rx="0.6"/><rect x="141.2" y="379.2" width="2.2" height="2.2" rx="0.6"/><rect x="137.4" y="380.8" width="2.2" height="2.2" rx="0.6"/><rect x="140.4" y="383.1" width="2.2" height="2.2" rx="0.6"/><rect x="137.4" y="385.2" width="2.2" height="2.2" rx="0.6"/><rect x="153.1" y="378.5" width="2.2" height="2.2" rx="0.6"/><rect x="153.1" y="383.7" width="2.2" height="2.2" rx="0.6"/><rect x="156.9" y="377.4" width="2.2" height="2.2" rx="0.6"/><rect x="145.1" y="363.1" width="2.2" height="2.2" rx="0.6"/><rect x="145.1" y="365.9" width="2.2" height="2.2" rx="0.6"/><rect x="145.1" y="369.7" width="2.2" height="2.2" rx="0.6"/><rect x="145.1" y="372.7" width="2.2" height="2.2" rx="0.6"/><rect x="145.1" y="374.1" width="2.2" height="2.2" rx="0.6"/><rect x="157" y="356.8" width="2.2" height="2.2" rx="0.6"/><rect x="157" y="368.9" width="2.2" height="2.2" rx="0.6"/><rect x="160.9" y="359.4" width="2.2" height="2.2" rx="0.6"/><rect x="164.8" y="364.1" width="2.2" height="2.2" rx="0.6"/><rect x="168.7" y="363.7" width="2.2" height="2.2" rx="0.6"/><rect x="172.9" y="354.5" width="2.2" height="2.2" rx="0.6"/><rect x="172.9" y="355.9" width="2.2" height="2.2" rx="0.6"/><rect x="172.9" y="360.7" width="2.2" height="2.2" rx="0.6"/><rect x="176.6" y="352.2" width="2.2" height="2.2" rx="0.6"/><rect x="160.9" y="370.4" width="2.2" height="2.2" rx="0.6"/><rect x="164.9" y="371.4" width="2.2" height="2.2" rx="0.6"/><rect x="168.8" y="369.9" width="2.2" height="2.2" rx="0.6"/><rect x="168.8" y="372" width="2.2" height="2.2" rx="0.6"/><rect x="165" y="375.2" width="2.2" height="2.2" rx="0.6"/><rect x="180.6" y="334.1" width="2.2" height="2.2" rx="0.6"/><rect x="184.7" y="333.8" width="2.2" height="2.2" rx="0.6"/><rect x="192.4" y="332.5" width="2.2" height="2.2" rx="0.6"/><rect x="192.4" y="328.7" width="2.2" height="2.2" rx="0.6"/><rect x="184.7" y="341.5" width="2.2" height="2.2" rx="0.6"/><rect x="176.7" y="343.5" width="2.2" height="2.2" rx="0.6"/><rect x="196.4" y="340.2" width="2.2" height="2.2" rx="0.6"/><rect x="184.6" y="302.7" width="2.2" height="2.2" rx="0.6"/><rect x="188.7" y="304.8" width="2.2" height="2.2" rx="0.6"/><rect x="180.7" y="318.1" width="2.2" height="2.2" rx="0.6"/><rect x="204.4" y="314.9" width="2.2" height="2.2" rx="0.6"/><rect x="200.4" y="326" width="2.2" height="2.2" rx="0.6"/><rect x="196.4" y="294.4" width="2.2" height="2.2" rx="0.6"/><rect x="223.9" y="325" width="2.2" height="2.2" rx="0.6"/><rect x="231.9" y="323.6" width="2.2" height="2.2" rx="0.6"/><rect x="239.7" y="303.9" width="2.2" height="2.2" rx="0.6"/><rect x="251.7" y="304.8" width="2.2" height="2.2" rx="0.6"/><rect x="259.5" y="301.7" width="2.2" height="2.2" rx="0.6"/><rect x="239.7" y="311.4" width="2.2" height="2.2" rx="0.6"/><rect x="247.7" y="313.5" width="2.2" height="2.2" rx="0.6"/><rect x="251.7" y="312.9" width="2.2" height="2.2" rx="0.6"/><rect x="325.3" y="462.3" width="2.2" height="2.2" rx="0.6"/><rect x="331.7" y="456.5" width="2.2" height="2.2" rx="0.6"/><rect x="328.6" y="470.9" width="2.2" height="2.2" rx="0.6"/><rect x="338" y="463.8" width="2.2" height="2.2" rx="0.6"/><rect x="341.3" y="466.6" width="2.2" height="2.2" rx="0.6"/><rect x="347.6" y="453.6" width="2.2" height="2.2" rx="0.6"/><rect x="351" y="448.9" width="2.2" height="2.2" rx="0.6"/><rect x="363.8" y="434" width="2.2" height="2.2" rx="0.6"/><rect x="363.8" y="437.9" width="2.2" height="2.2" rx="0.6"/><rect x="363.8" y="442.8" width="2.2" height="2.2" rx="0.6"/><rect x="366.9" y="430.3" width="2.2" height="2.2" rx="0.6"/><rect x="366.9" y="433.7" width="2.2" height="2.2" rx="0.6"/><rect x="370.2" y="432.9" width="2.2" height="2.2" rx="0.6"/><rect x="370.2" y="438.3" width="2.2" height="2.2" rx="0.6"/><rect x="373.4" y="424.3" width="2.2" height="2.2" rx="0.6"/><rect x="373.4" y="426.8" width="2.2" height="2.2" rx="0.6"/><rect x="373.4" y="432.7" width="2.2" height="2.2" rx="0.6"/><rect x="373.4" y="438.9" width="2.2" height="2.2" rx="0.6"/><rect x="376.6" y="421.7" width="2.2" height="2.2" rx="0.6"/><rect x="376.6" y="424.7" width="2.2" height="2.2" rx="0.6"/><rect x="376.6" y="429.5" width="2.2" height="2.2" rx="0.6"/><rect x="379.8" y="423.5" width="2.2" height="2.2" rx="0.6"/><rect x="379.8" y="434.2" width="2.2" height="2.2" rx="0.6"/><rect x="379.8" y="445.7" width="2.2" height="2.2" rx="0.6"/><rect x="383" y="420.9" width="2.2" height="2.2" rx="0.6"/><rect x="386.3" y="422.1" width="2.2" height="2.2" rx="0.6"/><rect x="389.4" y="424.7" width="2.2" height="2.2" rx="0.6"/><rect x="386.3" y="444.1" width="2.2" height="2.2" rx="0.6"/><rect x="383" y="405.7" width="2.2" height="2.2" rx="0.6"/><rect x="386.3" y="408.7" width="2.2" height="2.2" rx="0.6"/><rect x="386.3" y="412.1" width="2.2" height="2.2" rx="0.6"/><rect x="383" y="414" width="2.2" height="2.2" rx="0.6"/><rect x="376.6" y="416.4" width="2.2" height="2.2" rx="0.6"/><rect x="383" y="417.4" width="2.2" height="2.2" rx="0.6"/><rect x="392.7" y="409.1" width="2.2" height="2.2" rx="0.6"/><rect x="395.8" y="409.7" width="2.2" height="2.2" rx="0.6"/><rect x="395.8" y="411.8" width="2.2" height="2.2" rx="0.6"/><rect x="399.1" y="397.8" width="2.2" height="2.2" rx="0.6"/><rect x="402.3" y="395.7" width="2.2" height="2.2" rx="0.6"/><rect x="402.3" y="400.4" width="2.2" height="2.2" rx="0.6"/><rect x="408.7" y="400.7" width="2.2" height="2.2" rx="0.6"/><rect x="411.8" y="392.1" width="2.2" height="2.2" rx="0.6"/><rect x="411.8" y="393.4" width="2.2" height="2.2" rx="0.6"/><rect x="415.1" y="394.1" width="2.2" height="2.2" rx="0.6"/><rect x="418.3" y="398.8" width="2.2" height="2.2" rx="0.6"/><rect x="415.2" y="390.5" width="2.2" height="2.2" rx="0.6"/><rect x="402.3" y="362" width="2.2" height="2.2" rx="0.6"/><rect x="398.4" y="382.9" width="2.2" height="2.2" rx="0.6"/><rect x="402.3" y="389.1" width="2.2" height="2.2" rx="0.6"/><rect x="408.7" y="387.2" width="2.2" height="2.2" rx="0.6"/><rect x="418.3" y="382.2" width="2.2" height="2.2" rx="0.6"/><rect x="418.3" y="387.5" width="2.2" height="2.2" rx="0.6"/><rect x="421.5" y="379.7" width="2.2" height="2.2" rx="0.6"/><rect x="421.5" y="383.8" width="2.2" height="2.2" rx="0.6"/><rect x="443.8" y="349.4" width="2.2" height="2.2" rx="0.6"/><rect x="431.2" y="358.9" width="2.2" height="2.2" rx="0.6"/><rect x="434.4" y="357.7" width="2.2" height="2.2" rx="0.6"/><rect x="431.2" y="365.5" width="2.2" height="2.2" rx="0.6"/><rect x="437.7" y="364.3" width="2.2" height="2.2" rx="0.6"/><rect x="440.7" y="364.7" width="2.2" height="2.2" rx="0.6"/><rect x="444" y="365.5" width="2.2" height="2.2" rx="0.6"/><rect x="440.7" y="369.1" width="2.2" height="2.2" rx="0.6"/><rect x="428" y="369.5" width="2.2" height="2.2" rx="0.6"/><rect x="427.9" y="371.5" width="2.2" height="2.2" rx="0.6"/><rect x="434.3" y="367.5" width="2.2" height="2.2" rx="0.6"/><rect x="424.7" y="373.1" width="2.2" height="2.2" rx="0.6"/><rect x="424.7" y="375.5" width="2.2" height="2.2" rx="0.6"/><rect x="424.7" y="380.3" width="2.2" height="2.2" rx="0.6"/><rect x="434.5" y="374.8" width="2.2" height="2.2" rx="0.6"/><rect x="447.3" y="326.5" width="2.2" height="2.2" rx="0.6"/><rect x="450.4" y="339.1" width="2.2" height="2.2" rx="0.6"/><rect x="473" y="341.4" width="2.2" height="2.2" rx="0.6"/><rect x="466.6" y="345.7" width="2.2" height="2.2" rx="0.6"/><rect x="479.4" y="318.5" width="2.2" height="2.2" rx="0.6"/><rect x="489.1" y="318" width="2.2" height="2.2" rx="0.6"/><rect x="479.4" y="333.1" width="2.2" height="2.2" rx="0.6"/><rect x="488.9" y="354" width="2.2" height="2.2" rx="0.6"/><rect x="402.3" y="390.5" width="2.2" height="2.2" rx="0.6"/><rect x="495.6" y="310.8" width="2.2" height="2.2" rx="0.6"/><rect x="495.4" y="272.5" width="2.2" height="2.2" rx="0.6"/><rect x="485.8" y="283.9" width="2.2" height="2.2" rx="0.6"/></g>
</svg></body></html>
